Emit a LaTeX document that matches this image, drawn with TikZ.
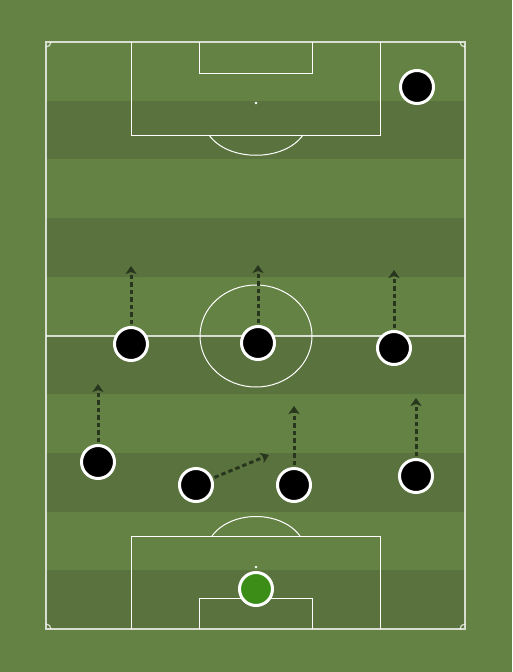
\documentclass[tikz,border=0pt]{standalone}
\usetikzlibrary{arrows.meta}
\definecolor{grassL}{RGB}{100,130,68}
\definecolor{grassD}{RGB}{90,115,62}
\definecolor{arrowC}{RGB}{40,54,30}
\definecolor{gkgreen}{RGB}{60,140,24}
\begin{document}
\begin{tikzpicture}[x=1pt,y=-1pt,
  pline/.style={draw=white,line width=1pt},
  oline/.style={draw=white,draw opacity=0.75,line width=1.2pt},
  player/.style={circle,inner sep=0pt,minimum size=33pt,fill=black,draw=white,line width=3pt},
  keeper/.style={player,fill=gkgreen},
  run/.style={draw=arrowC,line width=3pt,dash pattern=on 4.5pt off 3pt,-{Stealth[length=8pt,width=11pt,inset=2pt]},shorten <=2pt}]
\useasboundingbox (0,0) rectangle (512,672);
\fill[grassL] (0,0) rectangle (512,672);
% stripes
\foreach \i in {1,3,5,7,9}{
  \fill[grassD] (46,{42+\i*58.7}) rectangle (465,{42+(\i+1)*58.7});
}
% outer lines
\draw[oline] (46,42) rectangle (465,629);
\draw[oline] (46,336) -- (465,336);
% corner arcs
\draw[oline] (51,42) arc[start angle=0,end angle=90,radius=5];
\draw[oline] (460,42) arc[start angle=180,end angle=90,radius=5];
\draw[oline] (51,629) arc[start angle=0,end angle=-90,radius=5];
\draw[oline] (460,629) arc[start angle=180,end angle=270,radius=5];
% top
\draw[pline] (131,42) -- (131,135) -- (380,135) -- (380,42);
\draw[pline] (199,42) -- (199,73) -- (312,73) -- (312,42);
\fill[white] (256,103) circle[radius=1.3];
\draw[pline] (209,135) .. controls (228,162) and (284,162) .. (303,135);
% center
\draw[pline] (256,336) ellipse[x radius=56,y radius=51];
% bottom
\draw[pline] (131,629) -- (131,536) -- (380,536) -- (380,629);
\draw[pline] (199,629) -- (199,598) -- (312,598) -- (312,629);
\fill[white] (256,567) circle[radius=1.3];
\draw[pline] (212,536) .. controls (231,510) and (281,510) .. (300,536);
% players
\node[player] (gk2) at (417,87) {};
\node[player] (m1) at (131,344) {};
\node[player] (m2) at (258,343) {};
\node[player] (m3) at (394,348) {};
\node[player] (d1) at (98,462) {};
\node[player] (d2) at (196,485) {};
\node[player] (d3) at (294,485) {};
\node[player] (d4) at (416,476) {};
\node[keeper] (gk) at (256,589) {};
% arrow targets
\coordinate (t1) at (131,266);
\coordinate (t2) at (258,265);
\coordinate (t3) at (394,270);
\coordinate (t4) at (98,384);
\coordinate (t5) at (269,455);
\coordinate (t6) at (294,406);
\coordinate (t7) at (416,398);
\draw[run] (m1) -- (t1);
\draw[run] (m2) -- (t2);
\draw[run] (m3) -- (t3);
\draw[run] (d1) -- (t4);
\draw[run] (d2) -- (t5);
\draw[run] (d3) -- (t6);
\draw[run] (d4) -- (t7);
\end{tikzpicture}
\end{document}
